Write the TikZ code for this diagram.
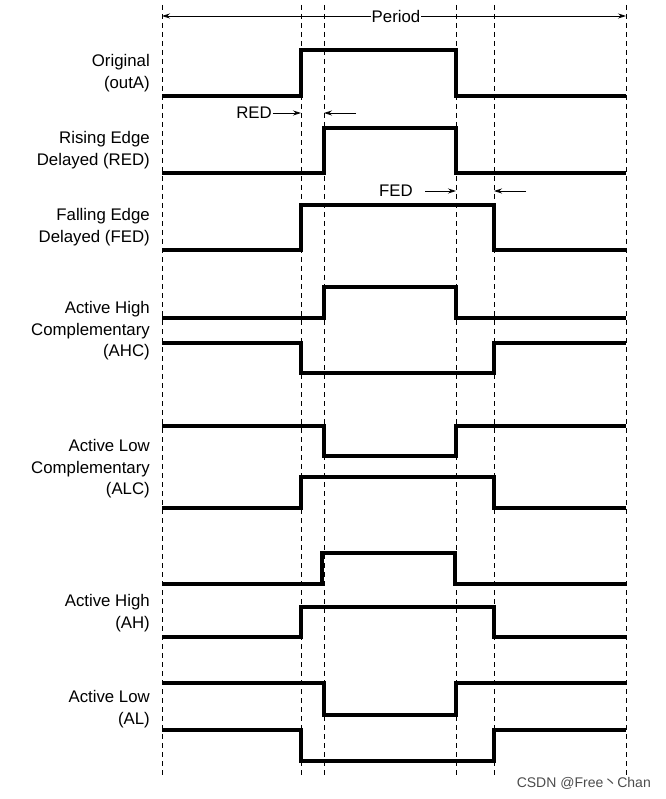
\documentclass[tikz,border=0pt]{standalone}
\usepackage{fontspec}
\setmainfont{Liberation Sans}
\newfontfamily\cjk{Noto Sans CJK SC}
\usetikzlibrary{arrows.meta}
\begin{document}
\begin{tikzpicture}[x=1pt,y=-1pt,
  wave/.style={line width=3.2pt,line join=miter},
  guide/.style={line width=0.8pt,dash pattern=on 5pt off 4pt},
  lab/.style={align=right,anchor=east,font=\fontsize{16.8}{21.5}\selectfont,inner sep=0pt},
  dim/.style={-{Stealth[length=8pt,width=5pt]},line width=0.8pt},
  txt/.style={font=\fontsize{16.8}{19}\selectfont,inner sep=1pt}]
\useasboundingbox (0,0) rectangle (665,799);
\foreach \x in {162,301,324,456,494,626}{\draw[guide] (\x,5) -- (\x,778);}
% period
\node[txt,fill=white] (per) at (396,16) {Period};
\coordinate (pl) at (162,16); \coordinate (pr) at (626,16);
\draw[dim] (per) -- (pl); \draw[dim] (per) -- (pr);
% labels
\node[lab] (l1) at (150,73) {Original\\(outA)};
\node[lab] (l2) at (150,150) {Rising Edge\\Delayed (RED)};
\node[lab] (l3) at (150,227) {Falling Edge\\Delayed (FED)};
\node[lab] (l4) at (150,331) {Active High\\Complementary\\(AHC)};
\node[lab] (l5) at (150,469) {Active Low\\Complementary\\(ALC)};
\node[lab] (l6) at (150,613) {Active High\\(AH)};
\node[lab] (l7) at (150,709) {Active Low\\(AL)};
% waves
\draw[wave] (162,96) -| (301,50) -| (456,96) -- (626,96);
\draw[wave] (162,173) -| (324,128) -| (456,173) -- (626,173);
\draw[wave] (162,250) -| (301,205) -| (494,250) -- (626,250);
\draw[wave] (162,318) -| (324,287) -| (456,318) -- (626,318);
\draw[wave] (162,343) -| (301,373) -| (494,343) -- (626,343);
\draw[wave] (162,426) -| (324,456) -| (456,426) -- (626,426);
\draw[wave] (162,508) -| (301,477) -| (494,508) -- (626,508);
\draw[wave] (162,584) -| (322,553) -| (455,584) -- (626,584);
\draw[wave] (162,637) -| (301,607) -| (494,637) -- (626,637);
\draw[wave] (162,683) -| (324,715) -| (456,683) -- (626,683);
\draw[wave] (162,730) -| (301,761) -| (494,730) -- (626,730);
% RED / FED
\node[txt] (red) at (254,113) {RED};
\coordinate (r1) at (301,113); \coordinate (r2) at (356,113); \coordinate (r3) at (324,113);
\draw[dim] (red) -- (r1); \draw[dim] (r2) -- (r3);
\node[txt] (fed) at (396,191) {FED};
\coordinate (f0) at (425,191); \coordinate (f1) at (456,191); \coordinate (f2) at (526,191); \coordinate (f3) at (494,191);
\draw[dim] (f0) -- (f1); \draw[dim] (f2) -- (f3);
\node[txt,anchor=east,text=black!70,font=\fontsize{14}{16}\selectfont] (wm) at (652,783) {CSDN @Free{\cjk 丶}Chan};
\end{tikzpicture}
\end{document}
